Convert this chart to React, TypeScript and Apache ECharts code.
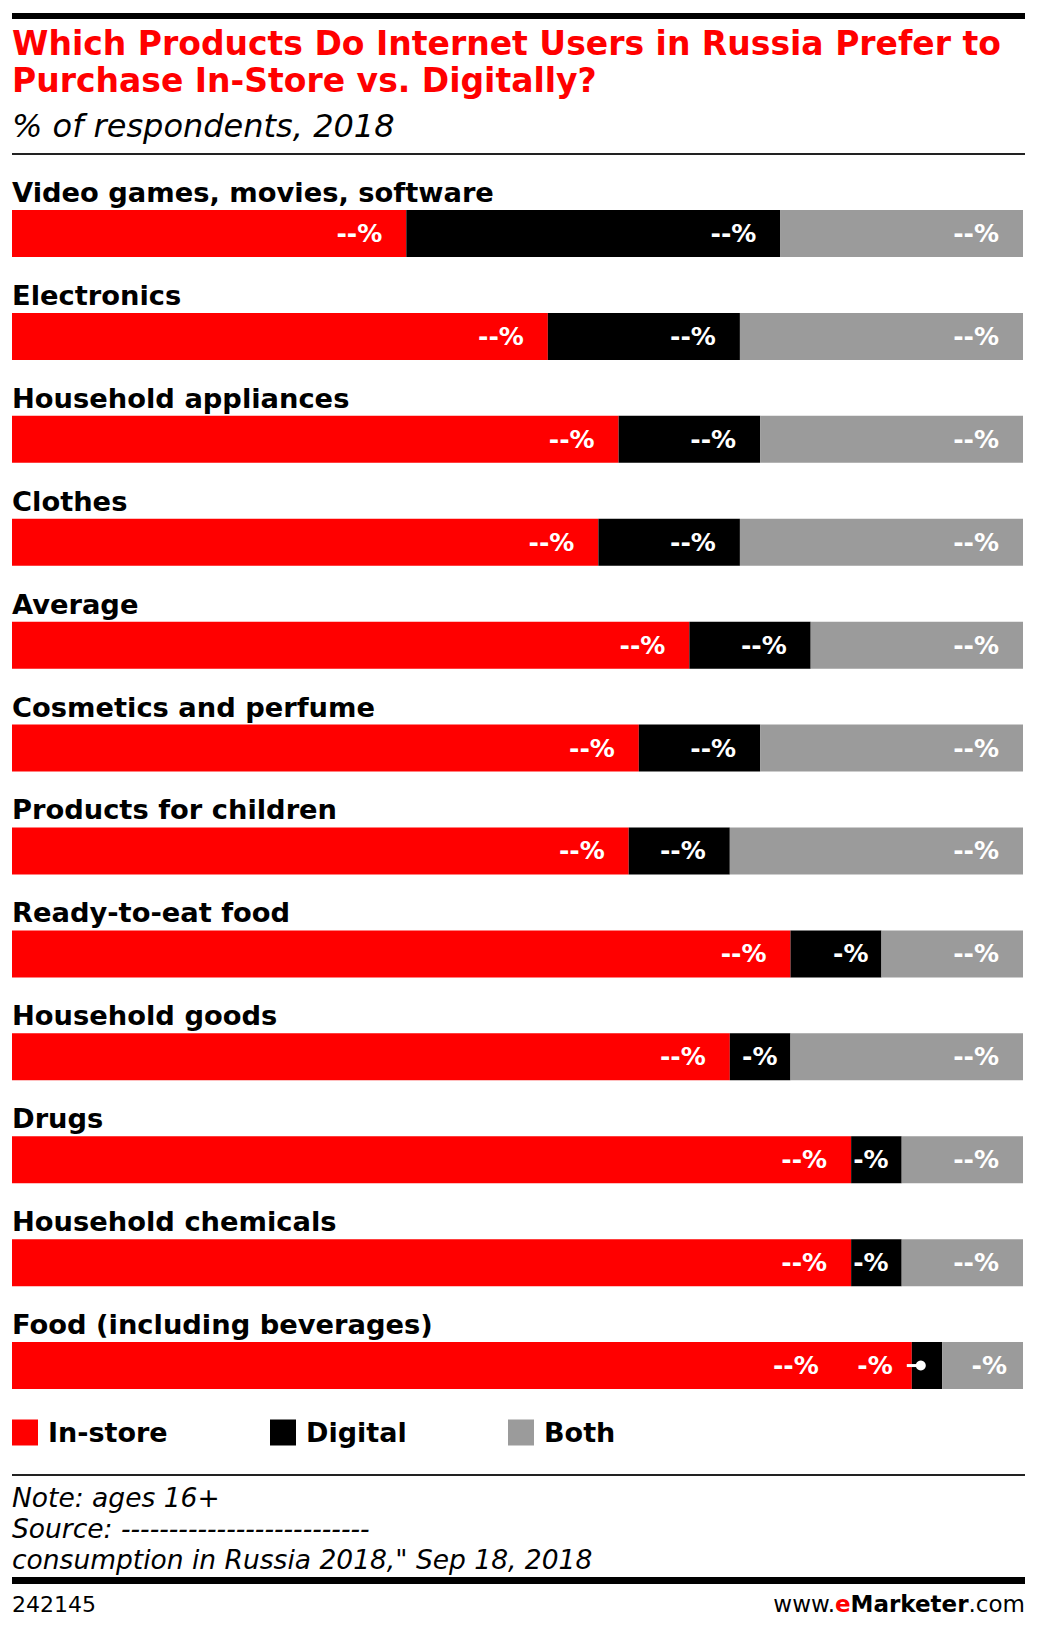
import React, { useEffect, useRef } from 'react';
import * as echarts from 'echarts';

const categories = [
  'Video games, movies, software',
  'Electronics',
  'Household appliances',
  'Clothes',
  'Average',
  'Cosmetics and perfume',
  'Products for children',
  'Ready-to-eat food',
  'Household goods',
  'Drugs',
  'Household chemicals',
  'Food (including beverages)',
];
const instore = [39, 53, 60, 58, 67, 62, 61, 77, 71, 83, 83, 89];
const digital = [37, 19, 14, 14, 12, 12, 10, 9, 6, 5, 5, 3];
const both = [24, 28, 26, 28, 21, 26, 29, 14, 23, 12, 12, 8];

const instoreLabels = ['--%', '--%', '--%', '--%', '--%', '--%', '--%', '--%', '--%', '--%', '--%', '--%'];
const digitalLabels = ['--%', '--%', '--%', '--%', '--%', '--%', '--%', '-%', '-%', '-%', '-%', '-%'];
const bothLabels = ['--%', '--%', '--%', '--%', '--%', '--%', '--%', '--%', '--%', '--%', '--%', '-%'];

const seriesNames = ['In-store', 'Digital', 'Both'];
const titleText = 'Which Products Do Internet Users in Russia Prefer to\nPurchase In-Store vs. Digitally?';
const subtitleText = '% of respondents, 2018';
const noteLines = [
  'Note: ages 16+',
  'Source: --------------------------',
  'consumption in Russia 2018," Sep 18, 2018',
];
const chartId = '242145';

const FONT = 'DejaVu Sans';
const RED = '#ff0000';
const BLACK = '#000000';
const GREY = '#9b9b9b';

function barLabel(labels: string[]) {
  return {
    show: true,
    position: 'insideRight' as const,
    distance: 24,
    color: '#fff',
    fontFamily: FONT,
    fontWeight: 'bold' as const,
    fontSize: 25,
    formatter: (p: any) => labels[p.dataIndex],
  };
}

// short "-%" labels sit a bit closer to the segment end
function withDistances(values: number[], labels: string[]) {
  return values.map((v, i) => (labels[i].length < 3 ? { value: v, label: { distance: 13 } } : v));
}

export default function App() {
  const ref = useRef<HTMLDivElement | null>(null);

  useEffect(() => {
    if (!ref.current) return;
    const chart = echarts.init(ref.current, undefined, { renderer: 'svg' });
    const last = categories.length - 1;

    const instoreData: any[] = withDistances(instore, instoreLabels);
    instoreData[last] = { value: instore[last], label: { distance: 93 } };
    const digitalData: any[] = withDistances(digital, digitalLabels);
    digitalData[last] = { value: digital[last], label: { position: 'left', distance: 19 } };
    const bothData: any[] = withDistances(both, bothLabels);
    bothData[last] = { value: both[last], label: { distance: 16 } };

    const legendBase = {
      top: 1419,
      padding: 0,
      itemWidth: 26,
      itemHeight: 26,
      icon: 'rect',
      selectedMode: false,
      textStyle: { fontFamily: FONT, fontSize: 27, fontWeight: 'bold', color: '#000', padding: [0, 0, 0, 5] },
    };

    chart.setOption({
      animation: false,
      textStyle: { fontFamily: FONT },
      title: [
        {
          left: 12,
          top: 25,
          padding: 0,
          text: titleText,
          textStyle: { fontFamily: FONT, fontSize: 33, fontWeight: 'bold', color: RED, lineHeight: 37 },
        },
        {
          left: 12,
          top: 109,
          padding: 0,
          text: subtitleText,
          textStyle: { fontFamily: FONT, fontSize: 32, fontStyle: 'italic', fontWeight: 'normal', color: '#000', lineHeight: 34 },
        },
        {
          left: 12,
          top: 1482,
          padding: 0,
          text: noteLines.join('\n'),
          textStyle: { fontFamily: FONT, fontSize: 26.5, fontStyle: 'italic', fontWeight: 'normal', color: '#000', lineHeight: 31 },
        },
        {
          left: 12,
          top: 1592,
          padding: 0,
          text: chartId,
          textStyle: { fontFamily: FONT, fontSize: 22, fontWeight: 'normal', color: '#000', lineHeight: 24 },
        },
        {
          right: 13,
          top: 1592,
          padding: 0,
          text: '{a|www.}{e|e}{b|Marketer}{a|.com}',
          textStyle: {
            rich: {
              a: { fontFamily: FONT, fontSize: 23, fontWeight: 'normal', color: '#000', lineHeight: 24 },
              e: { fontFamily: FONT, fontSize: 23, fontWeight: 'bold', color: RED, lineHeight: 24 },
              b: { fontFamily: FONT, fontSize: 23, fontWeight: 'bold', color: '#000', lineHeight: 24 },
            },
          },
        },
      ],
      legend: [
        { ...legendBase, left: 12, data: [seriesNames[0]] },
        { ...legendBase, left: 270, data: [seriesNames[1]] },
        { ...legendBase, left: 508, data: [seriesNames[2]] },
      ],
      grid: { left: 12, top: 182, width: 1011, height: 1235, containLabel: false },
      xAxis: { type: 'value', min: 0, max: 100, show: false },
      yAxis: {
        type: 'category',
        inverse: true,
        data: categories,
        axisLine: { show: false },
        axisTick: { show: false },
        splitLine: { show: false },
        axisLabel: {
          inside: true,
          margin: 0,
          interval: 0,
          color: '#000',
          fontFamily: FONT,
          fontSize: 27.3,
          fontWeight: 'bold',
          verticalAlign: 'bottom',
          lineHeight: 28,
          padding: [0, 0, 27, 0],
        },
      },
      series: [
        { name: seriesNames[0], type: 'bar', stack: 'all', barWidth: 47, itemStyle: { color: RED }, label: barLabel(instoreLabels), data: instoreData },
        { name: seriesNames[1], type: 'bar', stack: 'all', barWidth: 47, itemStyle: { color: BLACK }, label: barLabel(digitalLabels), data: digitalData },
        { name: seriesNames[2], type: 'bar', stack: 'all', barWidth: 47, itemStyle: { color: GREY }, label: barLabel(bothLabels), data: bothData },
      ],
    });

    // leader from the displaced digital label into its narrow segment
    const [px, py] = chart.convertToPixel({ xAxisIndex: 0, yAxisIndex: 0 }, [instore[last], last]) as number[];

    chart.setOption({
      graphic: [
        { type: 'rect', shape: { x: 12, y: 13, width: 1013, height: 6 }, style: { fill: '#000' } },
        { type: 'rect', shape: { x: 12, y: 153, width: 1013, height: 2 }, style: { fill: '#222' } },
        { type: 'rect', shape: { x: 12, y: 1474, width: 1013, height: 2 }, style: { fill: '#222' } },
        { type: 'rect', shape: { x: 12, y: 1577, width: 1013, height: 7 }, style: { fill: '#000' } },
        { type: 'line', z: 10, shape: { x1: px - 5, y1: py, x2: px + 9, y2: py }, style: { stroke: '#fff', lineWidth: 3 } },
        { type: 'circle', z: 10, shape: { cx: px + 9, cy: py, r: 5 }, style: { fill: '#fff' } },
      ],
    });

    return () => chart.dispose();
  }, []);

  return <div ref={ref} style={{ position: 'absolute', left: 0, top: 0, width: 1038, height: 1630, background: '#fff' }} />;
}
